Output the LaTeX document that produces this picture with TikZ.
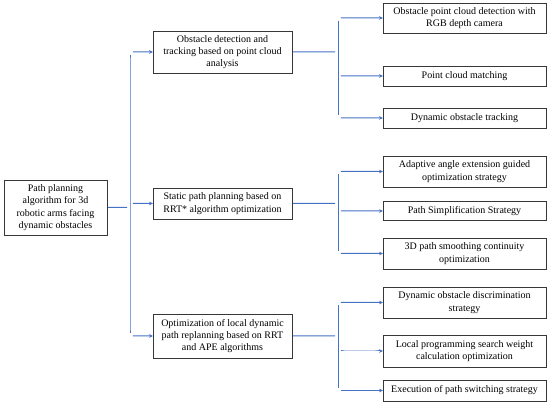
\documentclass[tikz,border=0pt]{standalone}
\usepackage{fontspec}
\setmainfont{Liberation Serif}
\usepackage{tikz-network}
\usetikzlibrary{arrows.meta}
\definecolor{linkblue}{RGB}{68,114,196}
\definecolor{boxgray}{RGB}{55,55,55}
\newcommand{\boxfont}{\rmfamily\fontsize{10}{12.2}\selectfont}
\newcommand{\boxlines}[1]{{\boxfont\begin{tabular}{@{}c@{}}#1\end{tabular}}}

\begin{document}
\begin{tikzpicture}[scale=0.351459]
				\useasboundingbox (0,0) rectangle (55,40.3);
				\SetVertexStyle[Shape=rectangle,MinSize=0.2\DefaultUnit,FillColor=white,LineColor=boxgray,LineWidth=0.9pt,TextFont=\boxfont]
				\SetEdgeStyle[Color=linkblue,LineWidth=1pt,Arrow=-{Stealth[length=4pt,width=3.6pt]}]
				% root and first level
				\Vertex[x=5.55,y=19.55,label={\boxlines{Path planning\\algorithm for 3d\\robotic arms facing\\dynamic obstacles}},style={minimum width=103pt,minimum height=55pt}]{Root}
				\Vertex[x=22.25,y=35.1,label={\boxlines{Obstacle detection and\\tracking based on point cloud\\analysis}},style={minimum width=139pt,minimum height=42pt}]{Detect}
				\Vertex[x=22.25,y=19.95,label={\boxlines{Static path planning based on\\RRT* algorithm optimization}},style={minimum width=139pt,minimum height=31pt}]{Static}
				\Vertex[x=22.25,y=6.7,label={\boxlines{Optimization of local dynamic\\path replanning based on RRT\\and APE algorithms}},style={minimum width=139pt,minimum height=44pt}]{Replan}
				% second level
				\Vertex[x=46.45,y=38.5,label={\boxlines{Obstacle point cloud detection with\\RGB depth camera}},style={minimum width=163pt,minimum height=30pt}]{A1}
				\Vertex[x=46.45,y=32.7,label={\boxlines{Point cloud matching}},style={minimum width=163pt,minimum height=20pt}]{A2}
				\Vertex[x=46.45,y=28.5,label={\boxlines{Dynamic obstacle tracking}},style={minimum width=163pt,minimum height=20pt}]{A3}
				\Vertex[x=46.45,y=23.15,label={\boxlines{Adaptive angle extension guided\\optimization strategy}},style={minimum width=163pt,minimum height=31pt}]{B1}
				\Vertex[x=46.45,y=19.2,label={\boxlines{Path Simplification Strategy}},style={minimum width=163pt,minimum height=19pt}]{B2}
				\Vertex[x=46.45,y=14.95,label={\boxlines{3D path smoothing continuity\\optimization}},style={minimum width=163pt,minimum height=31pt}]{B3}
				\Vertex[x=46.45,y=10.05,label={\boxlines{Dynamic obstacle discrimination\\strategy}},style={minimum width=163pt,minimum height=31pt}]{C1}
				\Vertex[x=46.45,y=5.2,label={\boxlines{Local programming search weight\\calculation optimization}},style={minimum width=163pt,minimum height=32pt}]{C2}
				\Vertex[x=46.45,y=1.25,label={\boxlines{Execution of path switching strategy}},style={minimum width=163pt,minimum height=21pt}]{C3}
				% junction points
				\Vertex[x=13,y=19.55,Pseudo]{t0}
				\Vertex[x=13,y=35.1,Pseudo]{t1}
				\Vertex[x=13,y=19.95,Pseudo]{t2}
				\Vertex[x=13,y=6.7,Pseudo]{t3}
				\Vertex[x=33.8,y=35.1,Pseudo]{a0}
				\Vertex[x=33.8,y=38.5,Pseudo]{a1}
				\Vertex[x=33.8,y=32.7,Pseudo]{a2}
				\Vertex[x=33.8,y=28.5,Pseudo]{a3}
				\Vertex[x=33.8,y=19.95,Pseudo]{b0}
				\Vertex[x=33.8,y=23.15,Pseudo]{b1}
				\Vertex[x=33.8,y=19.2,Pseudo]{b2}
				\Vertex[x=33.8,y=14.95,Pseudo]{b3}
				\Vertex[x=33.8,y=6.7,Pseudo]{c0}
				\Vertex[x=33.8,y=10.05,Pseudo]{c1}
				\Vertex[x=33.8,y=5.2,Pseudo]{c2}
				\Vertex[x=33.8,y=1.25,Pseudo]{c3}
				% trunk
				\Edge(Root)(t0)
				\Edge(t1)(t3)
				\Edge[Direct](t1)(Detect)
				\Edge[Direct](t2)(Static)
				\Edge[Direct](t3)(Replan)
				% branches
				\Edge(Detect)(a0)
				\Edge(a1)(a3)
				\Edge(Static)(b0)
				\Edge(b1)(b3)
				\Edge(Replan)(c0)
				\Edge(c1)(c3)
				\Edge[Direct](a1)(A1)
				\Edge[Direct](a2)(A2)
				\Edge[Direct](a3)(A3)
				\Edge[Direct](b1)(B1)
				\Edge[Direct](b2)(B2)
				\Edge[Direct](b3)(B3)
				\Edge[Direct](c1)(C1)
				\Edge[Direct](c2)(C2)
				\Edge[Direct](c3)(C3)
			\end{tikzpicture}
\end{document}
